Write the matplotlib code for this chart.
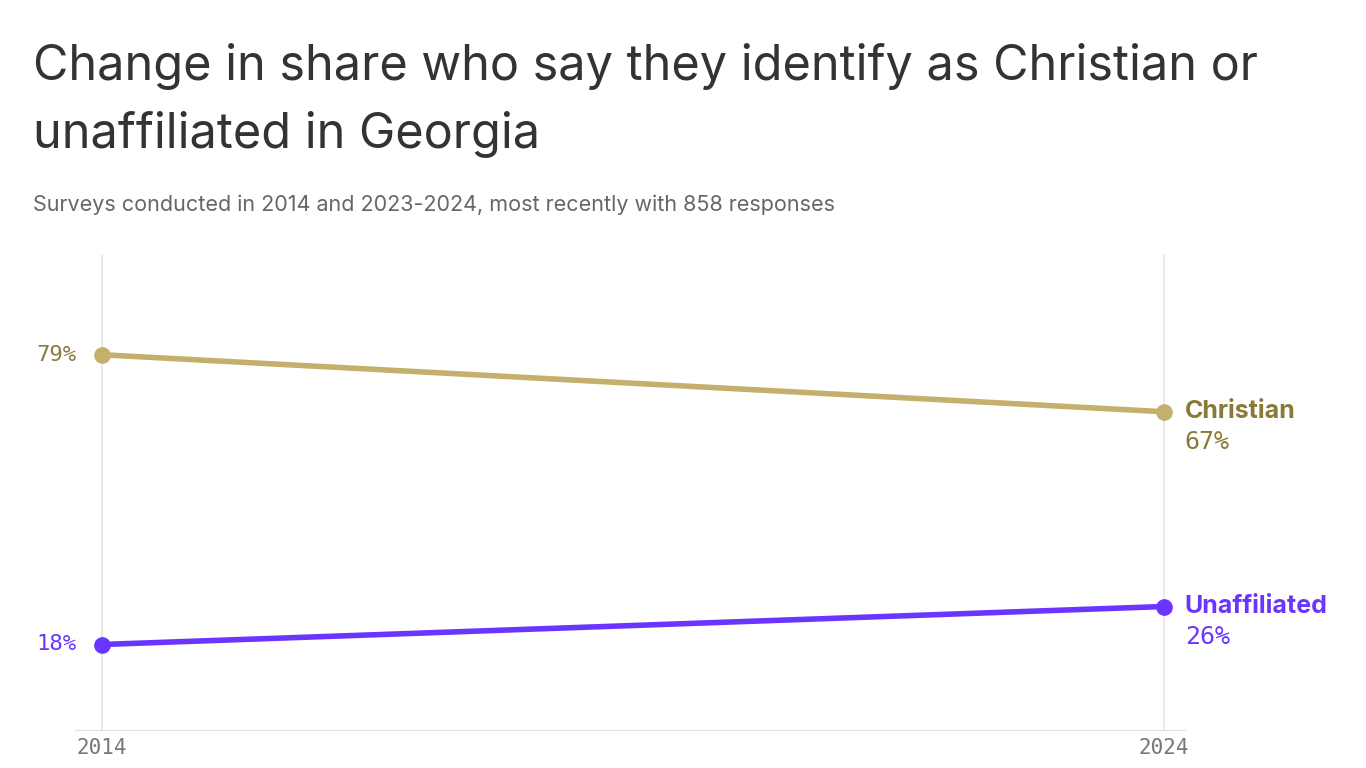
import matplotlib
matplotlib.use("Agg")
import matplotlib.pyplot as plt

years = [2014, 2024]
christian = [79, 67]
unaffiliated = [18, 26]
series_names = ["Christian", "Unaffiliated"]
line_colors = ["#c4b06c", "#6a35ff"]
text_colors = ["#8a7a38", "#6a35ff"]

fig = plt.figure(figsize=(13.66, 7.68), dpi=100)
W, H = 1366, 768
ax = fig.add_axes([75/W, 1-730/H, (1185-75)/W, (730-255)/H])
ax.set_xlim(2014-0.254, 2024+0.198)
ax.set_ylim(0, 100)
for s in ["top", "right", "left"]:
    ax.spines[s].set_visible(False)
ax.spines["bottom"].set_color("#dddddd")
ax.set_yticks([])
ax.set_xticks(years)
ax.set_xticklabels([str(y) for y in years], family="DejaVu Sans Mono", fontsize=15, color="#777777")
ax.tick_params(axis="x", length=0, pad=6)
for y in years:
    ax.axvline(y, color="#e4e4e4", lw=1.2, zorder=0)

for vals, name, lc, tc in zip([christian, unaffiliated], series_names, line_colors, text_colors):
    ax.plot(years, vals, color=lc, lw=4, marker="o", ms=11, solid_capstyle="round", clip_on=False)
    ax.annotate(f"{vals[0]}%", (years[0], vals[0]), xytext=(-18, 0), textcoords="offset points",
                ha="right", va="center", family="DejaVu Sans Mono", fontsize=16, color=tc)
    ax.annotate(name, (years[1], vals[1]), xytext=(15, 0), textcoords="offset points",
                ha="left", va="center", fontsize=18, fontweight="bold", color=tc, family="Inter")
    ax.annotate(f"{vals[1]}%", (years[1], vals[1]), xytext=(15, -22), textcoords="offset points",
                ha="left", va="center", family="DejaVu Sans Mono", fontsize=18, color=tc)

fig.text(33/W, 1-67/H, "Change in share who say they identify as Christian or", fontsize=35, color="#333333", family="Inter", va="center")
fig.text(33/W, 1-135/H, "unaffiliated in Georgia", fontsize=35, color="#333333", family="Inter", va="center")
fig.text(33/W, 1-205/H, "Surveys conducted in 2014 and 2023-2024, most recently with 858 responses", fontsize=15.5, color="#666666", family="Inter", va="center")

fig.savefig("out.png", dpi=100, facecolor="white")
